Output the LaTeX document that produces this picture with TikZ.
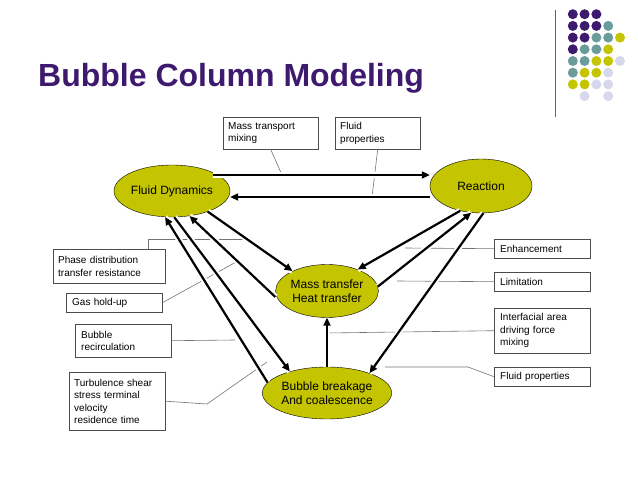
\documentclass[tikz,border=0pt]{standalone}
\usepackage{fontspec}
\setmainfont{Liberation Sans}
\usetikzlibrary{arrows.meta, shapes.geometric}
\definecolor{ttl}{HTML}{3D1A6E}
\definecolor{olive}{HTML}{C4C400}
\definecolor{teal}{HTML}{6A9C9C}
\definecolor{lav}{HTML}{D8D8EC}
\tikzset{
  ell/.style={ellipse, draw=black, fill=olive, inner sep=0pt, font=\fontsize{12}{14}\selectfont, align=center},
  box/.style={draw=black!70, rectangle, inner sep=0pt, font=\fontsize{10}{12.5}\selectfont, align=left, text width=#1, anchor=north west},
  flow/.style={-{Triangle[length=8pt,width=7pt]}, line width=2.2pt, preaction={draw=white, line width=6pt, -}},
  lead/.style={draw=black!55, line width=0.6pt},
  dot/.style={circle, inner sep=0pt, minimum size=10pt}
}
\begin{document}
\begin{tikzpicture}[x=1pt,y=-1pt]
\useasboundingbox (0,0) rectangle (638,478);
% decoration
\draw[black!60, line width=0.8pt] (555,10) -- (555,117);
\foreach \c [count=\r] in {{P,P,P},{P,P,P,T},{P,P,T,T,Y},{P,T,T,Y},{T,T,Y,Y,L},{T,Y,Y,L},{Y,Y,L,L},{N,L,N,L}}{
  \foreach \k [count=\i] in \c {
    \def\col{white}
    \if\k P\def\col{ttl}\fi
    \if\k T\def\col{teal}\fi
    \if\k Y\def\col{olive}\fi
    \if\k L\def\col{lav}\fi
    \node[dot, fill=\col] at ({561+11.8*\i},{2.5+11.7*\r}) {};
  }
}
\node[anchor=base west, text=ttl, font=\bfseries\fontsize{32}{36}\selectfont, inner sep=0pt] (title) at (38,87) {Bubble Column Modeling};

% ellipses
\node[ell, minimum width=102pt, minimum height=52pt] (fd) at (172,191) {Fluid Dynamics};
\node[ell, minimum width=102pt, minimum height=54pt] (re) at (481,186) {Reaction};
\node[ell, minimum width=102pt, minimum height=53pt] (mt) at (327,291) {Mass transfer\\Heat transfer};
\node[ell, minimum width=111pt, minimum height=52pt] (bb) at (327,393) {Bubble breakage\\And coalescence};

% boxes
\node[box=95pt, minimum height=32pt] (mtm) at (223,117) {\hspace{5pt}\parbox[c]{85pt}{Mass transport\\mixing}};
\node[box=85pt, minimum height=32pt] (fp1) at (335,117) {\hspace{5pt}\parbox[c]{75pt}{Fluid\\properties}};
\node[box=112pt, minimum height=34pt] (pd) at (53,249) {\hspace{5pt}\parbox[c]{105pt}{Phase distribution\\transfer resistance}};
\node[box=96pt, minimum height=19pt] (gh) at (66,293) {\hspace{6pt}Gas hold-up};
\node[box=96pt, minimum height=33pt] (br) at (75,324) {\hspace{6pt}\parbox[c]{85pt}{Bubble\\recirculation}};
\node[box=96pt, minimum height=58pt] (tu) at (69,372) {\hspace{5pt}\parbox[c]{88pt}{Turbulence shear\\stress terminal\\velocity\\residence time}};
\node[box=96pt, minimum height=19pt] (en) at (494,239) {\hspace{6pt}Enhancement};
\node[box=96pt, minimum height=19pt] (li) at (494,272) {\hspace{6pt}Limitation};
\node[box=96pt, minimum height=45pt] (ia) at (494,308) {\hspace{6pt}\parbox[c]{85pt}{Interfacial area\\driving force\\mixing}};
\node[box=96pt, minimum height=19pt] (fp2) at (494,367) {\hspace{6pt}Fluid properties};

% leader lines
\coordinate (c1) at (282,175);
\coordinate (c2) at (372,197);
\draw[lead] (mtm.south) -- (c1);
\draw[lead] (fp1.south) -- (c2);
\draw[lead] (pd.north east) ++(-17,0) coordinate (p0) -- ++(0,-10) -- (245,239);
\draw[lead] (gh.east) -- (238,261);
\draw[lead] (br.east) -- (235,340);
\draw[lead] (tu.east) -- (207,404) -- (267,362);
\draw[lead] (en.west) -- (405,248);
\draw[lead] (li.west) -- (397,281);
\draw[lead] (ia.west) -- (327,333);
\draw[lead] (fp2.west) -- (468,367) -- (385,367);

% flows
\draw[flow] (213,175) -- (re.west |- 0,175);
\draw[flow] (re.west |- 0,197) -- (fd.east |- 0,197);
\draw[flow] (fd.-30) -- (mt.150);
\draw[flow] (mt.west) ++(0,6) -- (fd.-55);
\draw[flow] (fd.-85) -- (bb.150);
\draw[flow] (bb.170) -- (fd.-105);
\draw[flow] (re.-130) -- (mt.35);
\draw[flow] (mt.5) -- (re.-110);
\draw[flow] (re.-85) -- (bb.25);
\draw[flow] (bb.north) -- (mt.south);
\end{tikzpicture}
\end{document}
